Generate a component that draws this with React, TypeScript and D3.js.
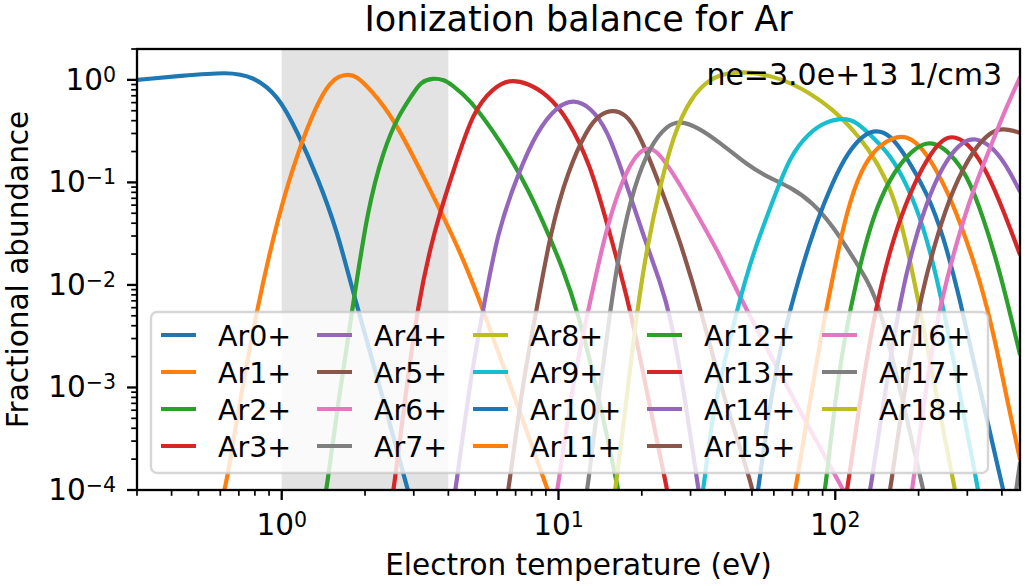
import React from 'react';
import * as d3 from 'd3';

// Electron temperature (eV) vs fractional abundance
const ar0: [number, number][] = [[0.3, 1.0], [0.43, 1.09], [0.64, 1.2], [0.79, 1.08], [0.97, 0.71], [1.14, 0.31], [1.35, 0.111], [1.59, 0.033], [1.8, 0.0089], [2.28, 9.5e-4], [2.85, 1e-4], [3.18, 3.6e-5]];
const ar1: [number, number][] = [[0.578, 5.1e-5], [0.628, 1e-4], [0.694, 5.8e-4], [0.819, 6.4e-3], [0.967, 0.045], [1.142, 0.198], [1.349, 0.61], [1.503, 0.956], [1.606, 1.082], [1.73, 1.137], [1.866, 1.094], [2.096, 0.8], [2.54, 0.426], [3.37, 0.0946], [4.43, 0.021], [5.32, 5.97e-3], [7.0, 7.55e-4], [9.13, 1e-4], [10.17, 4.56e-5]];
const ar2: [number, number][] = [[1.383, 5.1e-5], [1.454, 1e-4], [1.593, 6.75e-4], [1.804, 5.97e-3], [2.044, 0.0564], [2.335, 0.2075], [2.622, 0.4355], [2.996, 0.747], [3.176, 0.956], [3.51, 1.046], [3.876, 1.0], [4.074, 0.914], [4.81, 0.638], [5.83, 0.311], [6.71, 0.173], [7.73, 0.0884], [9.13, 0.0329], [10.34, 0.01465], [11.71, 5.7e-3], [13.94, 8.45e-4], [16.47, 1e-4], [17.3, 4.56e-5]];
const ar3: [number, number][] = [[2.434, 5.1e-5], [2.54, 1e-4], [2.8, 8.45e-4], [3.1, 6.38e-3], [3.54, 0.0329], [4.18, 0.1324], [4.93, 0.51], [5.83, 0.835], [6.6, 1.011], [7.73, 0.935], [9.13, 0.714], [10.78, 0.426], [13.05, 0.148], [15.03, 0.0385], [18.2, 5.97e-3], [21.13, 7.55e-4], [24.75, 1e-4], [25.8, 5.1e-5]];
const ar4: [number, number][] = [[4.074, 5.1e-5], [4.25, 1e-4], [4.81, 1.24e-3], [5.36, 5.97e-3], [6.02, 0.0329], [7.11, 0.118], [8.4, 0.325], [9.92, 0.558], [11.33, 0.645], [13.05, 0.545], [15.03, 0.325], [17.17, 0.118], [20.27, 0.0301], [23.35, 0.0105], [25.37, 5.1e-3], [28.74, 7.55e-4], [32.02, 1e-4], [33.39, 5.1e-5]];
const ar5: [number, number][] = [[6.33, 5.1e-5], [6.6, 1e-4], [7.47, 1.24e-3], [8.4, 6.38e-3], [9.36, 0.0329], [10.78, 0.1266], [12.72, 0.34], [14.18, 0.466], [15.67, 0.51], [17.46, 0.466], [19.28, 0.325], [22.77, 0.111], [27.56, 0.0263], [32.55, 5.97e-3], [38.45, 1.06e-3], [44.3, 3.08e-4], [50.6, 1e-4], [52.7, 5.1e-5]];
const ar6: [number, number][] = [[9.51, 5.1e-5], [9.92, 1e-4], [11.33, 1.24e-3], [13.05, 7.14e-3], [14.78, 0.0329], [16.74, 0.0946], [18.66, 0.173], [20.61, 0.222], [22.77, 0.2075], [26.89, 0.1057], [31.76, 0.0482], [37.5, 0.0219], [45.4, 7.47e-3], [58.3, 2.07e-3], [74.8, 5.77e-4], [106.9, 1e-4], [118.1, 6.1e-5]];
const ar7: [number, number][] = [[12.21, 5.1e-5], [12.72, 1e-4], [13.94, 7.55e-4], [15.41, 5.97e-3], [16.74, 0.0246], [18.66, 0.0884], [21.48, 0.232], [24.75, 0.364], [27.56, 0.398], [31.76, 0.348], [38.45, 0.243], [48.1, 0.148], [56.8, 0.113], [68.8, 0.0904], [83.3, 0.0631], [98.4, 0.0368], [113.3, 0.0205], [130.5, 0.0112], [145.4, 5.97e-3], [171.7, 9.45e-4], [207.9, 1e-4], [220.3, 5.1e-5]];
const ar8: [number, number][] = [[15.41, 5.1e-5], [16.06, 1e-4], [17.6, 7.55e-4], [19.28, 5.97e-3], [20.96, 0.0246], [23.35, 0.0946], [26.02, 0.29], [29.96, 0.667], [35.38, 1.046], [41.78, 1.184], [49.34, 1.197], [63.3, 1.046], [81.2, 0.747], [98.4, 0.51], [113.3, 0.348], [130.5, 0.222], [154.1, 0.1057], [171.7, 0.0451], [186.6, 0.0168], [202.7, 5.7e-3], [233.5, 7.55e-4], [271.2, 1e-4], [282.7, 5.1e-5]];
const ar9: [number, number][] = [[32.02, 5.1e-5], [33.39, 1e-4], [35.38, 3.85e-4], [38.45, 1.24e-3], [44.3, 5.97e-3], [50.6, 0.021], [59.7, 0.0675], [68.8, 0.1855], [81.2, 0.311], [92.0, 0.389], [106.9, 0.426], [120.1, 0.389], [137.2, 0.272], [157.9, 0.1855], [181.9, 0.0946], [207.9, 0.0385], [239.3, 8.93e-3], [282.7, 8.45e-4], [328.3, 1e-4], [342.3, 5.1e-5]];
const ar10: [number, number][] = [[50.6, 5.1e-5], [52.7, 1e-4], [59.7, 1.24e-3], [68.8, 5.97e-3], [81.2, 0.0275], [90.5, 0.0603], [104.2, 0.148], [120.1, 0.26], [137.2, 0.3325], [157.9, 0.297], [181.9, 0.173], [214.8, 0.079], [245.4, 0.0308], [282.7, 7.14e-3], [333.8, 9.45e-4], [404.2, 1e-4], [428.4, 5.1e-5]];
const ar11: [number, number][] = [[68.8, 5.1e-5], [71.7, 1e-4], [81.2, 7.55e-4], [88.3, 2.9e-3], [95.9, 8.93e-3], [106.9, 0.0385], [120.1, 0.111], [137.2, 0.2075], [162.0, 0.278], [181.9, 0.284], [207.9, 0.217], [245.4, 0.101], [282.7, 0.0412], [333.8, 0.0112], [378.1, 2.9e-3], [417.8, 7.55e-4], [465.6, 1.96e-4]];
const ar12: [number, number][] = [[88.3, 5.1e-5], [92.0, 1e-4], [100.0, 7.55e-4], [106.9, 2.6e-3], [120.1, 0.0125], [137.2, 0.0482], [157.9, 0.111], [181.9, 0.1855], [207.9, 0.243], [229.6, 0.243], [260.1, 0.194], [299.6, 0.118], [342.3, 0.0461], [394.2, 0.0134], [465.6, 2.07e-3]];
const ar13: [number, number][] = [[106.0, 5.1e-5], [110.5, 1e-4], [126.2, 1.24e-3], [141.8, 7.14e-3], [162.0, 0.0287], [186.6, 0.0808], [214.8, 0.173], [245.4, 0.272], [271.2, 0.284], [307.2, 0.232], [353.8, 0.1266], [404.2, 0.054], [465.6, 0.0196]];
const ar14: [number, number][] = [[128.3, 5.1e-5], [133.8, 1e-4], [154.1, 1.24e-3], [171.7, 7.14e-3], [191.2, 0.0246], [220.3, 0.0808], [253.7, 0.173], [289.9, 0.254], [320.2, 0.272], [362.7, 0.232], [411.0, 0.155], [465.6, 0.0808]];
const ar15: [number, number][] = [[151.5, 5.1e-5], [157.9, 1e-4], [171.7, 4.82e-4], [186.6, 2.07e-3], [204.4, 7.99e-3], [233.5, 0.0308], [266.7, 0.0884], [314.9, 0.2075], [362.7, 0.311], [404.2, 0.34], [465.6, 0.304]];
const ar16: [number, number][] = [[181.9, 5.1e-5], [189.7, 1e-4], [202.7, 3.85e-4], [220.3, 1.85e-3], [239.3, 6.38e-3], [275.7, 0.0275], [314.9, 0.0845], [362.7, 0.217], [411.0, 0.51], [465.6, 1.07]];
const ar17: [number, number][] = [[435.5, 5.1e-5], [450.2, 1e-4], [465.6, 1.88e-4]];
const ar18: [number, number][] = [];

const ionLabels = ['Ar0+', 'Ar1+', 'Ar2+', 'Ar3+', 'Ar4+', 'Ar5+', 'Ar6+', 'Ar7+', 'Ar8+', 'Ar9+', 'Ar10+', 'Ar11+', 'Ar12+', 'Ar13+', 'Ar14+', 'Ar15+', 'Ar16+', 'Ar17+', 'Ar18+'];
const ionSeries = [ar0, ar1, ar2, ar3, ar4, ar5, ar6, ar7, ar8, ar9, ar10, ar11, ar12, ar13, ar14, ar15, ar16, ar17, ar18];

const tempDomain: [number, number] = [0.3, 465];
const abundDomain: [number, number] = [1e-4, 2];
const shadedSpan: [number, number] = [1, 4];
const titleText = 'Ionization balance for Ar';
const densityText = 'ne=3.0e+13 1/cm3';
const xLabel = 'Electron temperature (eV)';
const yLabel = 'Fractional abundance';

const palette = d3.schemeCategory10;
const FONT = 'DejaVu Sans';

const supText = (e: number) => (e < 0 ? '\u2212' + Math.abs(e) : String(e));

export default function App() {
  const plot = { left: 137, right: 1020, top: 49, bottom: 490 };

  const x = d3.scaleLog().domain(tempDomain).range([plot.left, plot.right]);
  const y = d3.scaleLog().domain(abundDomain).range([plot.bottom, plot.top]);

  // values were hand-read, so a smoothing spline keeps the curves clean
  const line = d3
    .line<[number, number]>()
    .x(d => x(d[0]))
    .y(d => y(d[1]))
    .curve(d3.curveBasis);

  const isMajor = (t: number) => Math.abs(Math.log10(t) - Math.round(Math.log10(t))) < 1e-9;
  const xTicks = x.ticks();
  const yTicks = y.ticks();

  // legend layout (matplotlib style, 5 columns x 4 rows)
  const legendCols = [161, 317, 473, 647, 822];
  const legendRows = [335, 372, 409, 446];

  return (
    <svg
      width={1025}
      height={586}
      style={{ position: 'fixed', left: 0, top: 0, display: 'block', background: '#fff' }}
      fontFamily={FONT}
    >
      <defs>
        <clipPath id="plotclip">
          <rect x={plot.left} y={plot.top} width={plot.right - plot.left} height={plot.bottom - plot.top} />
        </clipPath>
      </defs>

      {/* shaded temperature window */}
      <rect
        x={x(shadedSpan[0])}
        y={plot.top}
        width={x(shadedSpan[1]) - x(shadedSpan[0])}
        height={plot.bottom - plot.top}
        fill="#808080"
        fillOpacity={0.22}
      />

      {/* ion curves */}
      <g clipPath="url(#plotclip)">
        {ionSeries.map((s, i) =>
          s.length ? (
            <path
              key={ionLabels[i]}
              d={line(s) || ''}
              fill="none"
              stroke={palette[i % 10]}
              strokeWidth={4.2}
              strokeLinejoin="round"
              strokeLinecap="butt"
            />
          ) : null
        )}
      </g>

      <text x={1002} y={85} textAnchor="end" fontSize={30} fill="#000">
        {densityText}
      </text>

      {/* legend */}
      <g>
        <rect x={151} y={312} width={837} height={161} rx={6} fill="#fff" fillOpacity={0.8} stroke="#cccccc" strokeOpacity={0.8} strokeWidth={2.4} />
        {ionLabels.map((lab, i) => {
          const c = Math.floor(i / 4);
          const r = i % 4;
          const lx = legendCols[c];
          const ly = legendRows[r];
          return (
            <g key={lab}>
              <line x1={lx} x2={lx + 35} y1={ly} y2={ly} stroke={palette[i % 10]} strokeWidth={4.2} />
              <text x={lx + 57} y={ly + 11} fontSize={28.5} fill="#000">
                {lab}
              </text>
            </g>
          );
        })}
      </g>

      {/* spines */}
      <rect x={plot.left} y={plot.top} width={plot.right - plot.left} height={plot.bottom - plot.top} fill="none" stroke="#000" strokeWidth={2.3} />

      {/* x ticks */}
      {xTicks.map(t => {
        const major = isMajor(t);
        const px = x(t);
        return (
          <g key={'x' + t}>
            <line x1={px} x2={px} y1={plot.bottom} y2={plot.bottom + (major ? 10 : 5.8)} stroke="#000" strokeWidth={major ? 2.3 : 1.7} />
            {major && (
              <text x={px} y={535} textAnchor="middle" fontSize={29.5} fill="#000">
                10
                <tspan dy={-8} fontSize={20.5}>
                  {supText(Math.round(Math.log10(t)))}
                </tspan>
              </text>
            )}
          </g>
        );
      })}

      {/* y ticks */}
      {yTicks.map(t => {
        const major = isMajor(t);
        const py = y(t);
        return (
          <g key={'y' + t}>
            <line x1={plot.left} x2={plot.left - (major ? 10 : 5.8)} y1={py} y2={py} stroke="#000" strokeWidth={major ? 2.3 : 1.7} />
            {major && (
              <text x={116} y={py + 10} textAnchor="end" fontSize={29.5} fill="#000">
                10
                <tspan dy={-8} fontSize={20.5}>
                  {supText(Math.round(Math.log10(t)))}
                </tspan>
              </text>
            )}
          </g>
        );
      })}

      {/* labels */}
      <text x={(plot.left + plot.right) / 2} y={31} textAnchor="middle" fontSize={35} fill="#000">
        {titleText}
      </text>
      <text x={(plot.left + plot.right) / 2} y={575} textAnchor="middle" fontSize={29.5} fill="#000">
        {xLabel}
      </text>
      <text transform={`translate(28,${(plot.top + plot.bottom) / 2}) rotate(-90)`} textAnchor="middle" fontSize={29.5} fill="#000">
        {yLabel}
      </text>
    </svg>
  );
}
